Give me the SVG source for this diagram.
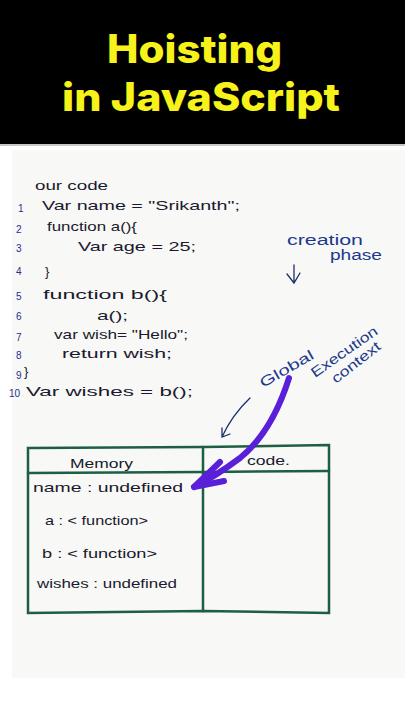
<svg xmlns="http://www.w3.org/2000/svg" width="405" height="720" viewBox="0 0 405 720">
  <style>
    .title { font-family: Inter, "Open Sans", "DejaVu Sans", sans-serif; font-weight: 800; font-size: 39px; fill: #f6f21a; }
    .code { font-family: "Liberation Sans", "DejaVu Sans", sans-serif; font-size: 13px; fill: #1a1a2e; }
    .num { font-family: "Liberation Sans", "DejaVu Sans", sans-serif; font-size: 10px; fill: #1f2f8f; }
    .note { font-family: "Liberation Sans", "DejaVu Sans", sans-serif; font-size: 14px; fill: #1c3a8c; }
    .mem { font-family: "Liberation Sans", "DejaVu Sans", sans-serif; font-size: 13px; fill: #1a1a2e; }
    .grid { stroke: #1d5e45; stroke-width: 2.5; fill: none; stroke-linecap: round; }
    .thin { stroke: #1c2f6e; stroke-width: 1.3; fill: none; stroke-linecap: round; }
    .purple { stroke: #5a1fd8; stroke-width: 6; fill: none; stroke-linecap: round; stroke-linejoin: round; }
  </style>

  <rect x="0" y="0" width="405" height="720" fill="#ffffff"/>
  <rect x="0" y="144" width="405" height="2" fill="#c8c8c8"/>
  <rect x="12" y="150" width="393" height="528" fill="#f8f8f6"/>

  <g id="title">
    <rect x="0" y="0" width="405" height="144" fill="#000000"/>
    <text class="title" x="107" y="63" textLength="175" lengthAdjust="spacingAndGlyphs">Hoisting</text>
    <text class="title" x="62" y="111" textLength="278" lengthAdjust="spacingAndGlyphs">in JavaScript</text>
  </g>

  <g id="code-block">
    <text class="code" x="35" y="190" textLength="73" lengthAdjust="spacingAndGlyphs">our code</text>
    <text class="num" x="18" y="212">1</text>
    <text class="code" x="42" y="210" textLength="198" lengthAdjust="spacingAndGlyphs">Var name = "Srikanth";</text>
    <text class="num" x="16" y="233">2</text>
    <text class="code" x="47" y="231" textLength="90" lengthAdjust="spacingAndGlyphs">function a(){</text>
    <text class="num" x="16" y="252">3</text>
    <text class="code" x="78" y="251" textLength="118" lengthAdjust="spacingAndGlyphs">Var age = 25;</text>
    <text class="num" x="16" y="275">4</text>
    <text class="code" x="45" y="276">}</text>
    <text class="num" x="16" y="300">5</text>
    <text class="code" x="43" y="299" textLength="124" lengthAdjust="spacingAndGlyphs">function b(){</text>
    <text class="num" x="16" y="320">6</text>
    <text class="code" x="97" y="320" textLength="31" lengthAdjust="spacingAndGlyphs">a();</text>
    <text class="num" x="16" y="341">7</text>
    <text class="code" x="54" y="339" textLength="134" lengthAdjust="spacingAndGlyphs">var wish= "Hello";</text>
    <text class="num" x="16" y="359">8</text>
    <text class="code" x="62" y="358" textLength="110" lengthAdjust="spacingAndGlyphs">return wish;</text>
    <text class="num" x="16" y="379">9</text>
    <text class="code" x="24" y="376">}</text>
    <text class="num" x="9" y="397">10</text>
    <text class="code" x="26" y="396" textLength="167" lengthAdjust="spacingAndGlyphs">Var  wishes = b();</text>
  </g>

  <g id="creation-phase">
    <text class="note" x="287" y="245" textLength="76" lengthAdjust="spacingAndGlyphs">creation</text>
    <text class="note" x="330" y="260" textLength="52" lengthAdjust="spacingAndGlyphs">phase</text>
  </g>

  <g id="global-execution-context">
    <text class="note" transform="translate(263,388) rotate(-30)" textLength="60" lengthAdjust="spacingAndGlyphs" font-size="16">Global</text>
    <text class="note" transform="translate(315,378) rotate(-35)" textLength="78" lengthAdjust="spacingAndGlyphs">Execution</text>
    <text class="note" transform="translate(336,384) rotate(-38)" textLength="58" lengthAdjust="spacingAndGlyphs">context</text>
  </g>

  <g id="memory-table">
    <path class="grid" d="M28,448 L203,447 L329,445 L329,613 L203,611 L28,613 Z"/>
    <path class="grid" d="M28,473 L203,472 L329,471"/>
    <path class="grid" d="M203,447 L203,611"/>
    <text class="mem" x="70" y="468" textLength="63" lengthAdjust="spacingAndGlyphs">Memory</text>
    <text class="mem" x="247" y="465" textLength="43" lengthAdjust="spacingAndGlyphs">code.</text>
    <text class="mem" x="33" y="492" textLength="150" lengthAdjust="spacingAndGlyphs">name :  undefined</text>
    <text class="mem" x="45" y="525" textLength="103" lengthAdjust="spacingAndGlyphs">a : &lt; function&gt;</text>
    <text class="mem" x="42" y="558" textLength="115" lengthAdjust="spacingAndGlyphs">b :  &lt; function&gt;</text>
    <text class="mem" x="37" y="588" textLength="140" lengthAdjust="spacingAndGlyphs">wishes : undefined</text>
  </g>

  <g id="connectors">
    <path class="thin" d="M294,265 L294,282 M287,274 L294,283 L300,273"/>
    <path class="thin" d="M250,398 Q232,415 222,437 M222,428 L222,437 L230,434"/>
    <path class="purple" d="M289,378 Q272,432 240,458 Q216,476 194,487"/>
    <path class="purple" d="M194,487 L220,462 M194,487 L224,481"/>
  </g>
</svg>
